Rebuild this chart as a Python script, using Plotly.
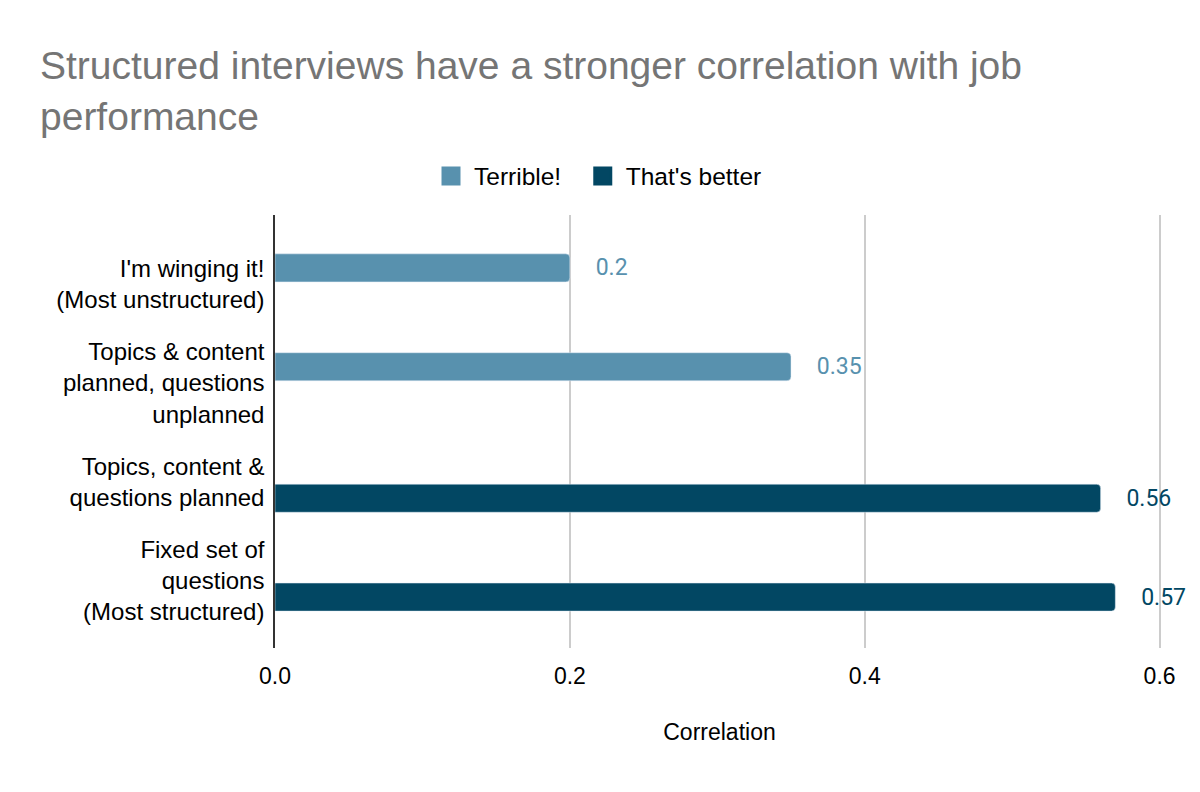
import plotly.graph_objects as go

# data
categories = [
    "I'm winging it!<br>(Most unstructured)",
    "Topics & content<br>planned, questions<br>unplanned",
    "Topics, content &<br>questions planned",
    "Fixed set of<br>questions<br>(Most structured)",
]
terrible = [0.2, 0.35, None, None]
better = [None, None, 0.56, 0.57]
series_names = ["Terrible!", "That's better"]

light = "#5891ae"
dark = "#024763"

fig = go.Figure()
for name, vals, col in [(series_names[0], terrible, light), (series_names[1], better, dark)]:
    fig.add_trace(go.Bar(
        y=categories, x=vals, orientation="h", name=name,
        marker=dict(color=col), showlegend=False,
        text=[("" if v is None else str(v)) for v in vals],
        texttemplate="    %{text}", textposition="outside", cliponaxis=False,
        textfont=dict(color=col, size=23, family="Roboto"),
    ))
    # bigger square swatch for the legend (nbsp pads the gap between entries)
    fig.add_trace(go.Scatter(
        x=[None], y=[None], mode="markers", name=name + "\u00a0\u00a0",
        marker=dict(symbol="square", size=22, color=col,
                    line=dict(width=3, color=col)),
    ))

# page has an 8px body margin, so positions below are offset by -8
fig.update_layout(
    width=1200, height=792,
    paper_bgcolor="white", plot_bgcolor="white",
    font=dict(family="Liberation Sans, Arial", size=24, color="#000000"),
    title=dict(
        text="Structured interviews have a stronger correlation with job<br>performance",
        x=32 / 1200, xanchor="left", xref="container",
        y=0.910, yanchor="top",
        font=dict(size=39, color="#757575"),
    ),
    barmode="group", bargap=0.34, bargroupgap=0.14, barcornerradius=4,
    margin=dict(l=267, r=44, t=207, b=152, autoexpand=False),
    legend=dict(orientation="h", x=596 / 1200, xanchor="center", xref="container",
                y=1 - 168 / 792, yanchor="middle", yref="container",
                font=dict(size=24.5), itemwidth=36, tracegroupgap=0),
    showlegend=True,
)
fig.update_xaxes(
    range=[0, 0.603], tickvals=[0, 0.2, 0.4, 0.6], tickformat=".1f",
    showgrid=True, gridcolor="#cccccc", gridwidth=1.5,
    zeroline=False, showline=False, ticks="", ticklabelstandoff=12,
    tickfont=dict(size=23), automargin=False,
    title=dict(text="Correlation", font=dict(size=23), standoff=35),
)
fig.update_yaxes(
    range=[3.68, -0.70], showline=True, linecolor="#333333", linewidth=1.5,
    showgrid=False, ticks="", ticklabelstandoff=4,
    tickfont=dict(size=24), automargin=False,
)

fig.write_html("out.html")
